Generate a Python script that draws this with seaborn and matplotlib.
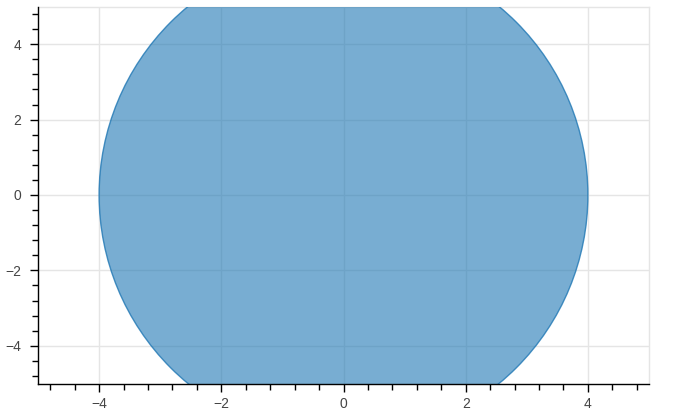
import matplotlib
matplotlib.use("Agg")
import matplotlib.pyplot as plt
import seaborn as sns
from matplotlib.patches import Ellipse
from matplotlib.ticker import MultipleLocator, FixedLocator

# Data
center_x = [0.0]
center_y = [0.0]
radii = [4.0]  # radius measured in x-axis units (screen-space circle)
x_range = [-5, 5]
y_range = [-5, 5]
major_ticks = [-4, -2, 0, 2, 4]

sns.set_theme(style="white")
plt.rcParams['font.family'] = ['Liberation Sans', 'DejaVu Sans']

fig = plt.figure(figsize=(6.9, 4.12), dpi=100)
ax = fig.add_axes([38/690, (412-383.5)/412, (649-38)/690, (383.5-6.5)/412])

ax.set_xlim(*x_range)
ax.set_ylim(*y_range)

# pixels per data unit in x and y, from the axes' own scales
bbox = ax.get_window_extent()
px_x = bbox.width / (x_range[1] - x_range[0])
px_y = bbox.height / (y_range[1] - y_range[0])
ratio = px_x / px_y

color = "#1f77b4"
for cx, cy, r in zip(center_x, center_y, radii):
    ax.add_patch(Ellipse((cx, cy), 2 * r, 2 * r * ratio, facecolor=color, alpha=0.6,
                         edgecolor="none", zorder=3))
    ax.add_patch(Ellipse((cx, cy), 2 * r, 2 * r * ratio, facecolor="none",
                         edgecolor=color, alpha=0.8, lw=1.0, zorder=4))

ax.xaxis.set_major_locator(FixedLocator(major_ticks))
ax.yaxis.set_major_locator(FixedLocator(major_ticks))
ax.xaxis.set_minor_locator(MultipleLocator(0.4))
ax.yaxis.set_minor_locator(MultipleLocator(0.4))
ax.set_xticklabels([str(t).replace('-', '\u2212') for t in major_ticks])
ax.set_yticklabels([str(t).replace('-', '\u2212') for t in major_ticks])

ax.set_axisbelow(True)
ax.grid(True, which="major", color="#e5e5e5", lw=1)
for s in ["top", "right"]:
    ax.spines[s].set_color("#e5e5e5")
    ax.spines[s].set_linewidth(1)
for s in ["left", "bottom"]:
    ax.spines[s].set_color("black")
    ax.spines[s].set_linewidth(1)
    ax.spines[s].set_zorder(5)

ax.tick_params(which="major", direction="out", length=6, width=1, color="black",
               labelsize=10, labelcolor="#444444", left=True, bottom=True)
ax.tick_params(axis="x", which="major", pad=3.5)
ax.tick_params(axis="y", which="major", pad=6)
ax.tick_params(which="minor", direction="out", length=4, width=1, color="black",
               left=True, bottom=True)

fig.savefig("out.png", dpi=100)
